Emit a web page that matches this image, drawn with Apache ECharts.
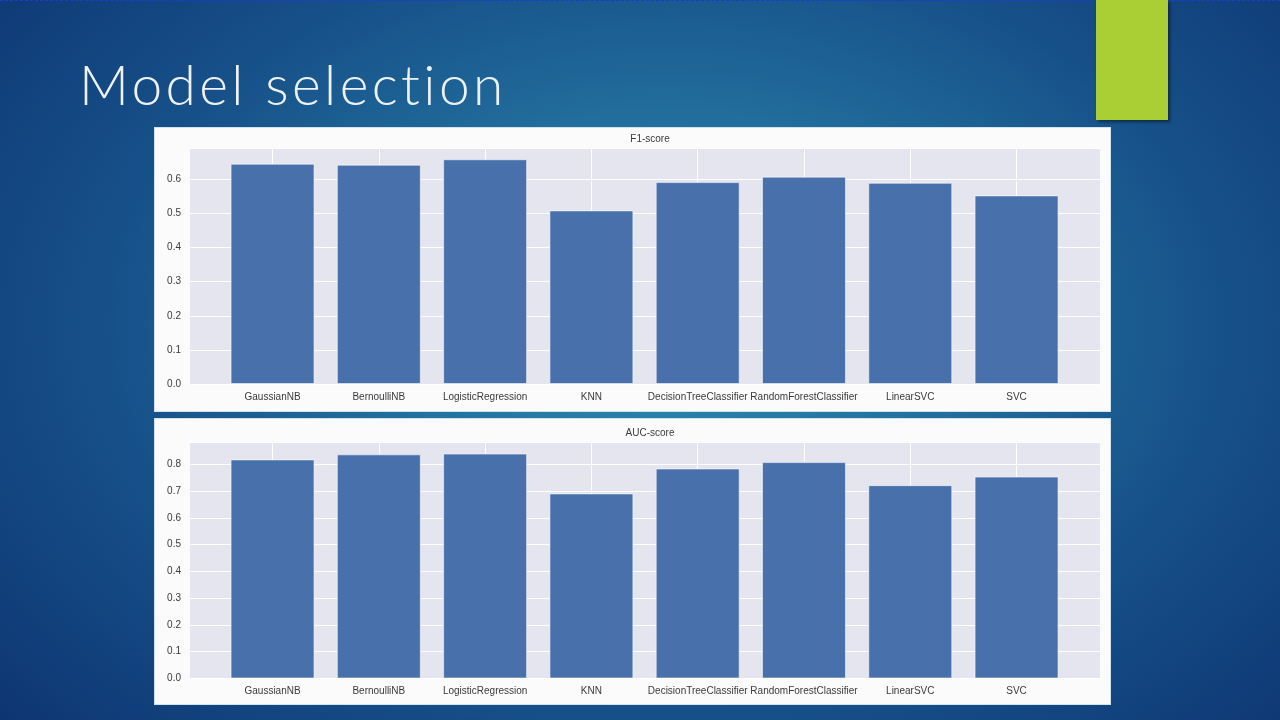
<!DOCTYPE html>
<html>
<head>
<meta charset="utf-8">
<script src="https://cdn.jsdelivr.net/npm/echarts@6/dist/echarts.min.js"></script>
<style>
  html, body { margin: 0; padding: 0; width: 1280px; height: 720px; overflow: hidden; }
  body {
    background: radial-gradient(ellipse 70% 85% at 52% 45%, #2d8cb0 0%, #23729f 30%, #175189 62%, #0d3471 100%);
    position: relative;
  }
  .topline { position: absolute; left: 0; top: 0; width: 1280px; height: 0; border-top: 1px dashed #1a3ccf; }
  .green { position: absolute; left: 1096px; top: 0; width: 72px; height: 120px; background: #a9cf34; box-shadow: 2px 2px 3px rgba(0,0,0,0.45); }
  .panel { position: absolute; left: 155px; width: 955px; background: #fbfbfb; box-shadow: 0 0 0 1px #cfe3ee; }
  .slide-title { position: absolute; left: 79px; top: 57px; margin: 0; font-family: Lato, "Open Sans", sans-serif; font-weight: 300; font-size: 55px; line-height: 55px; letter-spacing: 3.4px; color: #eef2f6; white-space: nowrap; font-variant-ligatures: none; }
  #chart { position: absolute; left: 0; top: 0; width: 1280px; height: 720px; }
</style>
</head>
<body>
<div class="topline"></div>
<div class="green"></div>
<div class="slide-title">Model selection</div>
<div class="panel" style="top:128px;height:283px;"></div>
<div class="panel" style="top:419px;height:285px;"></div>
<div id="chart"></div>
<script>
const categories = ['GaussianNB', 'BernoulliNB', 'LogisticRegression', 'KNN', 'DecisionTreeClassifier', 'RandomForestClassifier', 'LinearSVC', 'SVC'];
const f1Scores = [0.646, 0.643, 0.659, 0.509, 0.592, 0.608, 0.590, 0.553];
const aucScores = [0.818, 0.837, 0.840, 0.691, 0.784, 0.808, 0.722, 0.754];
const f1Max = 0.692;
const aucMax = 0.882;
const yInterval = 0.1;

const chart = echarts.init(document.getElementById('chart'), null, { renderer: 'canvas' });

const FONT = 'Liberation Sans, Arial, sans-serif';
const GREY = '#e5e5ef';
const BAR = '#4870aa';
const TXT = '#3a3a3a';

const panels = [
  { top: 148, height: 236, max: f1Max, data: f1Scores },
  { top: 442.3, height: 236.2, max: aucMax, data: aucScores }
];

const plotLeft = 190, plotWidth = 910;
const barLeft = 219.4, barWidth = 850.3;
const centerLeft = 272.5, centerWidth = 744;

const grids = [], xAxes = [], yAxes = [], series = [];
panels.forEach((p, i) => {
  const base = i * 3;
  grids.push({ left: plotLeft, width: plotWidth, top: p.top, height: p.height, show: true, backgroundColor: GREY, borderWidth: 0, containLabel: false });
  xAxes.push({ gridIndex: base, type: 'value', show: false, min: 0, max: 1 });
  yAxes.push({
    gridIndex: base, type: 'value', min: 0, max: p.max, interval: yInterval,
    axisLine: { show: false }, axisTick: { show: false },
    axisLabel: { fontSize: 10, color: TXT, fontFamily: FONT, margin: 9, showMaxLabel: false, formatter: v => v.toFixed(1) },
    splitLine: { show: true, lineStyle: { color: '#ffffff', width: 1 } }
  });
  grids.push({ left: centerLeft, width: centerWidth, top: p.top, height: p.height, show: false });
  xAxes.push({
    gridIndex: base + 1, type: 'category', data: categories, boundaryGap: false,
    axisLine: { show: false }, axisTick: { show: false }, axisLabel: { show: false },
    splitLine: { show: true, interval: 0, lineStyle: { color: '#ffffff', width: 1 } }
  });
  yAxes.push({ gridIndex: base + 1, type: 'value', show: false, min: 0, max: p.max, splitLine: { show: false } });
  grids.push({ left: barLeft, width: barWidth, top: p.top, height: p.height, show: false });
  xAxes.push({
    gridIndex: base + 2, type: 'category', data: categories,
    axisLine: { show: false }, axisTick: { show: false },
    axisLabel: { interval: 0, fontSize: 10, color: TXT, fontFamily: FONT, margin: 8 },
    splitLine: { show: false }
  });
  yAxes.push({ gridIndex: base + 2, type: 'value', show: false, min: 0, max: p.max, splitLine: { show: false } });
  series.push({
    type: 'bar', xAxisIndex: base + 2, yAxisIndex: base + 2, data: p.data,
    barCategoryGap: '21%', z: 3,
    itemStyle: { color: BAR, borderColor: 'rgba(255,255,255,0.55)', borderWidth: 1 },
    animation: false
  });
});

chart.setOption({
  backgroundColor: 'transparent',
  animation: false,
  title: [
    { text: 'F1-score', left: 645, top: 129, textAlign: 'center', textStyle: { fontSize: 10, fontWeight: 'normal', color: TXT, fontFamily: FONT } },
    { text: 'AUC-score', left: 645, top: 423, textAlign: 'center', textStyle: { fontSize: 10, fontWeight: 'normal', color: TXT, fontFamily: FONT } }
  ],
  grid: grids,
  xAxis: xAxes,
  yAxis: yAxes,
  series: series
});
</script>
</body>
</html>
